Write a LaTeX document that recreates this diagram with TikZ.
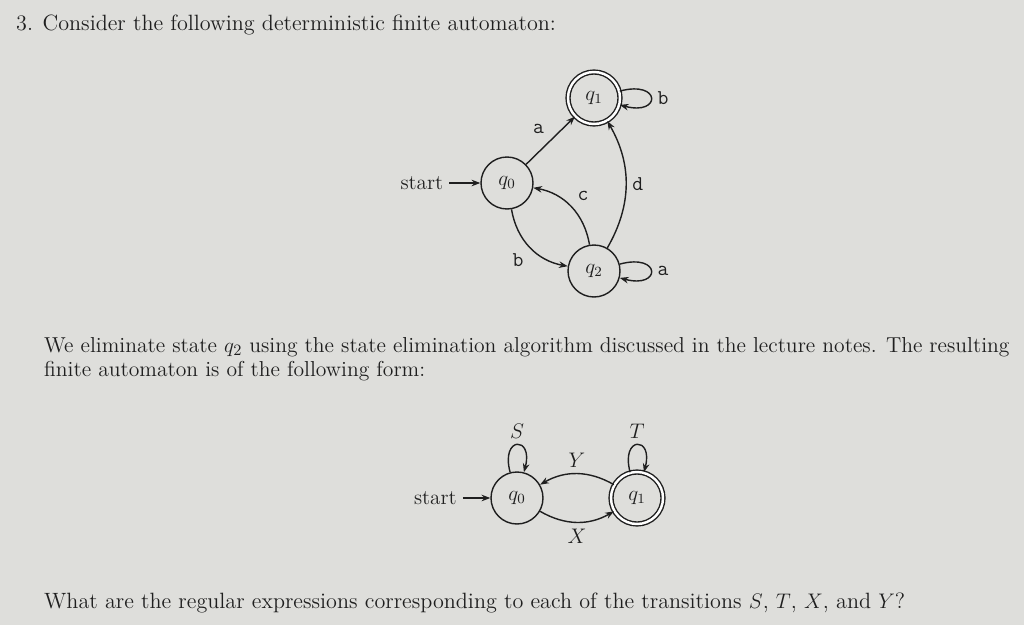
\documentclass[tikz,border=0pt]{standalone}
\usepackage{amsmath}
\usepackage{xcolor}
\definecolor{paper}{rgb}{0.87,0.87,0.86}
\definecolor{ink}{rgb}{0.12,0.12,0.12}
\usetikzlibrary{arrows.meta}
\usetikzlibrary{positioning}
\usetikzlibrary{calc}

\begin{document}
\begin{tikzpicture}[x=0.02cm, y=-0.02cm, every node/.style={font=\large, text=ink},
  state/.style={circle, draw=ink, thick, minimum size=1.04cm, inner sep=0pt},
  final/.style={state, double, double distance=1.4pt},
  trans/.style={draw=ink, thick, -{Stealth[length=5pt]}},
  sym/.style={font=\large\ttfamily},
  para/.style={anchor=base west, font=\fontsize{12.6}{15}\selectfont},
  narrow/.style={para, font=\fontsize{12.3}{15}\selectfont}]

% sheet
\fill[paper] (0,0) rectangle (1024,625);
\useasboundingbox (0,0) rectangle (1024,625);

% question text
\node[para] (head) at (10,31) {3. Consider the following deterministic finite automaton:};
\node[narrow] (elim) at (38,352) {We eliminate state $q_2$ using the state elimination algorithm discussed in the lecture notes. The resulting};
\node[narrow] (form) at (38,376) {finite automaton is of the following form:};
\node[para] (ask) at (38,608) {What are the regular expressions corresponding to each of the transitions $S$, $T$, $X$, and $Y$?};

% DFA
\node[state] (q0) at (507,183) {$q_0$};
\node[final] (q1) at (594,98) {$q_1$};
\node[state] (q2) at (594,271) {$q_2$};
\node[left=0.62cm of q0] (start) {start};

\draw[trans] (start) -- (q0);
\draw[trans] (q0) -- node[sym, midway, above left] {a} (q1);
\draw[trans] (q0) to[bend right=35] node[sym, midway, below left] {b} (q2);
\draw[trans] (q2) to[bend right=35] node[sym, midway, above right] {c} (q0);
\draw[trans] (q2) to[bend right=30] node[sym, midway, right] {d} (q1);
\draw[trans] (q1) to[loop right] node[sym, right] {b} (q1);
\draw[trans] (q2) to[loop right] node[sym, right] {a} (q2);

% reduced automaton
\node[state] (p0) at (517,498) {$q_0$};
\node[final] (p1) at (637,498) {$q_1$};
\node[left=0.55cm of p0] (pstart) {start};

\draw[trans] (pstart) -- (p0);
\draw[trans] (p0) to[out=105, in=75, looseness=7] node[above] {$S$} (p0);
\draw[trans] (p1) to[out=105, in=75, looseness=7] node[above] {$T$} (p1);
\draw[trans] (p1) to[bend right=30] node[midway, above] {$Y$} (p0);
\draw[trans] (p0) to[bend right=30] node[midway, below] {$X$} (p1);

\end{tikzpicture}
\end{document}
